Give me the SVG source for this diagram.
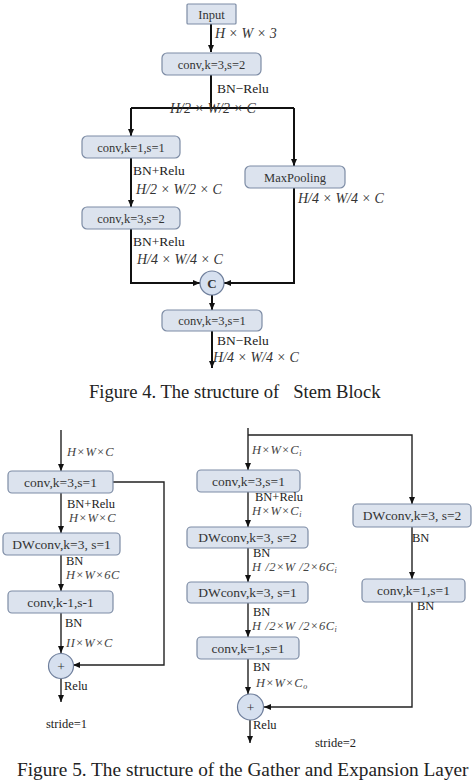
<svg xmlns="http://www.w3.org/2000/svg" width="474" height="780" viewBox="0 0 474 780" font-family="'Liberation Serif', serif">
<defs>
<marker id="ah" markerWidth="7" markerHeight="6" refX="7" refY="3" orient="auto" markerUnits="userSpaceOnUse">
<path d="M0,0 L7,3 L0,6 Z" fill="#111"/>
</marker>
<style>
text{font-family:'Liberation Serif','Times New Roman',serif}
.box{fill:#dce3ee;stroke:#7d8ca5;stroke-width:1.2}
.cir{fill:#d6e0ef;stroke:#6f7f9c;stroke-width:1.2}
.bt{font-size:12.5px;fill:#333;text-anchor:middle}
.bt5{font-size:13.5px;fill:#333;text-anchor:middle}
.lb{font-size:13.5px;fill:#222}
.lb5{font-size:12.5px;fill:#222}
.mt{font-size:14px;font-style:italic;fill:#333}
.mt5{font-size:12.5px;font-style:italic;fill:#444;letter-spacing:0.5px}
.cap{fill:#222;white-space:pre}
.l4{fill:none;stroke:#111;stroke-width:2}
.l5{fill:none;stroke:#222;stroke-width:1.4}
</style>
</defs>
<rect width="474" height="780" fill="#fff"/>

<g id="connectors">
<!-- Figure 4 -->
<path class="l4" d="M211,24 V52" marker-end="url(#ah)"/>
<path class="l4" d="M211,75 V108"/>
<path class="l4" d="M131,108 H294"/>
<path class="l4" d="M131,108 V136" marker-end="url(#ah)"/>
<path class="l4" d="M294,108 V166" marker-end="url(#ah)"/>
<path class="l4" d="M131,158 V207" marker-end="url(#ah)"/>
<path class="l4" d="M131,229 V283 H200" marker-end="url(#ah)"/>
<path class="l4" d="M294,188 V283 H224" marker-end="url(#ah)"/>
<path class="l4" d="M212,295 V310" marker-end="url(#ah)"/>
<path class="l4" d="M212,331 V368" marker-end="url(#ah)"/>
<!-- Figure 5 left -->
<path class="l5" d="M61,430 V471" marker-end="url(#ah)"/>
<path class="l5" d="M113,482 H164 V665 H73" marker-end="url(#ah)"/>
<path class="l5" d="M61,493 V533" marker-end="url(#ah)"/>
<path class="l5" d="M61,555 V591" marker-end="url(#ah)"/>
<path class="l5" d="M61,613 V653" marker-end="url(#ah)"/>
<path class="l5" d="M61,679 V702" marker-end="url(#ah)"/>
<!-- Figure 5 right -->
<path class="l5" d="M248,428 V470" marker-end="url(#ah)"/>
<path class="l5" d="M248,435 H412 V504" marker-end="url(#ah)"/>
<path class="l5" d="M248,492 V527" marker-end="url(#ah)"/>
<path class="l5" d="M248,548 V582" marker-end="url(#ah)"/>
<path class="l5" d="M248,603 V637" marker-end="url(#ah)"/>
<path class="l5" d="M248,659 V694" marker-end="url(#ah)"/>
<path class="l5" d="M412,527 V579" marker-end="url(#ah)"/>
<path class="l5" d="M412,602 V707 H264" marker-end="url(#ah)"/>
<path class="l5" d="M250,720 V743" marker-end="url(#ah)"/>
</g>

<!-- Figure 4 nodes -->
<g id="input"><rect class="box" x="187" y="4" width="49" height="20" rx="1"/><text class="bt" x="211.5" y="19">Input</text></g>
<g id="stem-conv1"><rect class="box" x="162" y="53" width="99" height="22" rx="5"/><text class="bt" x="211.5" y="68.5">conv,k=3,s=2</text></g>
<g id="stem-conv2"><rect class="box" x="82" y="136" width="98" height="22" rx="5"/><text class="bt" x="131" y="151.5">conv,k=1,s=1</text></g>
<g id="stem-conv3"><rect class="box" x="82" y="207" width="98" height="22" rx="5"/><text class="bt" x="131" y="222.5">conv,k=3,s=2</text></g>
<g id="maxpool"><rect class="box" x="245" y="166" width="100" height="22" rx="5"/><text class="bt" x="295" y="181.5">MaxPooling</text></g>
<g id="concat"><circle class="cir" cx="212" cy="283" r="12"/><text class="bt" x="212" y="287.5" style="font-size:13px;font-weight:bold">C</text></g>
<g id="stem-conv4"><rect class="box" x="162" y="310" width="100" height="21" rx="5"/><text class="bt" x="212" y="325">conv,k=3,s=1</text></g>

<g id="fig4-labels">
<text class="mt" x="215" y="38">H × W × 3</text>
<text class="lb" x="217" y="93">BN−Relu</text>
<text class="mt" x="170" y="113">H/2 × W/2 × C</text>
<text class="lb" x="133" y="175">BN+Relu</text>
<text class="mt" x="136" y="194">H/2 × W/2 × C</text>
<text class="lb" x="133" y="246">BN+Relu</text>
<text class="mt" x="137" y="264">H/4 × W/4 × C</text>
<text class="mt" x="298" y="203">H/4 × W/4 × C</text>
<text class="lb" x="217" y="345">BN−Relu</text>
<text class="mt" x="213" y="362">H/4 × W/4 × C</text>
<text class="cap" x="89" y="398" style="font-size:18.6px">Figure 4. The structure of   Stem Block</text>
</g>

<!-- Figure 5 left nodes -->
<g id="ge1-conv1"><rect class="box" x="8" y="471" width="105" height="22" rx="4"/><text class="bt5" x="60.5" y="486.5">conv,k=3,s=1</text></g>
<g id="ge1-dwconv"><rect class="box" x="3" y="533" width="117" height="22" rx="4"/><text class="bt5" x="61.5" y="548.5">DWconv,k=3, s=1</text></g>
<g id="ge1-conv2"><rect class="box" x="8" y="591" width="105" height="22" rx="4"/><text class="bt5" x="60.5" y="606.5">conv,k-1,s-1</text></g>
<g id="ge1-add"><circle class="cir" cx="61" cy="666" r="12.5"/><text class="bt5" x="61" y="670.5">+</text></g>

<!-- Figure 5 right nodes -->
<g id="ge2-conv1"><rect class="box" x="197" y="470" width="103" height="22" rx="4"/><text class="bt5" x="248.5" y="485.5">conv,k=3,s=1</text></g>
<g id="ge2-dwconv1"><rect class="box" x="187" y="527" width="121" height="21" rx="4"/><text class="bt5" x="247.5" y="542">DWconv,k=3, s=2</text></g>
<g id="ge2-dwconv2"><rect class="box" x="187" y="582" width="121" height="21" rx="4"/><text class="bt5" x="247.5" y="597">DWconv,k=3, s=1</text></g>
<g id="ge2-conv2"><rect class="box" x="197" y="637" width="102" height="22" rx="4"/><text class="bt5" x="248" y="652.5">conv,k=1,s=1</text></g>
<g id="ge2-add"><circle class="cir" cx="250.5" cy="707" r="13"/><text class="bt5" x="250.5" y="711.5">+</text></g>
<g id="ge2-short-dwconv"><rect class="box" x="353" y="504" width="118" height="23" rx="4"/><text class="bt5" x="412" y="520">DWconv,k=3, s=2</text></g>
<g id="ge2-short-conv"><rect class="box" x="362" y="579" width="103" height="23" rx="4"/><text class="bt5" x="413.5" y="595">conv,k=1,s=1</text></g>

<g id="fig5-labels">
<text class="mt5" x="67" y="456">H×W×C</text>
<text class="lb5" x="67" y="508">BN+Relu</text>
<text class="mt5" x="69" y="522">H×W×C</text>
<text class="lb5" x="66" y="565">BN</text>
<text class="mt5" x="66" y="579">H×W×6C</text>
<text class="lb5" x="65" y="627">BN</text>
<text class="mt5" x="66" y="647">II×W×C</text>
<text class="lb5" x="64" y="690">Relu</text>
<text class="lb5" x="46" y="728">stride=1</text>

<text class="mt5" x="252" y="454">H×W×C<tspan font-size="8" dy="2">i</tspan></text>
<text class="lb5" x="255" y="501">BN+Relu</text>
<text class="mt5" x="252" y="515">H×W×C<tspan font-size="8" dy="2">i</tspan></text>
<text class="lb5" x="253" y="557">BN</text>
<text class="mt5" x="252" y="571">H /2×W /2×6C<tspan font-size="8" dy="2">i</tspan></text>
<text class="lb5" x="253" y="616">BN</text>
<text class="mt5" x="252" y="630">H /2×W /2×6C<tspan font-size="8" dy="2">i</tspan></text>
<text class="lb5" x="253" y="671">BN</text>
<text class="mt5" x="256" y="687">H×W×C<tspan font-size="8" dy="2">o</tspan></text>
<text class="lb5" x="253" y="729">Relu</text>
<text class="lb5" x="315" y="747">stride=2</text>
<text class="lb5" x="412" y="542">BN</text>
<text class="lb5" x="417" y="610">BN</text>
<text class="cap" x="17" y="776" style="font-size:19.3px">Figure 5. The structure of the Gather and Expansion Layer</text>
</g>
</svg>
